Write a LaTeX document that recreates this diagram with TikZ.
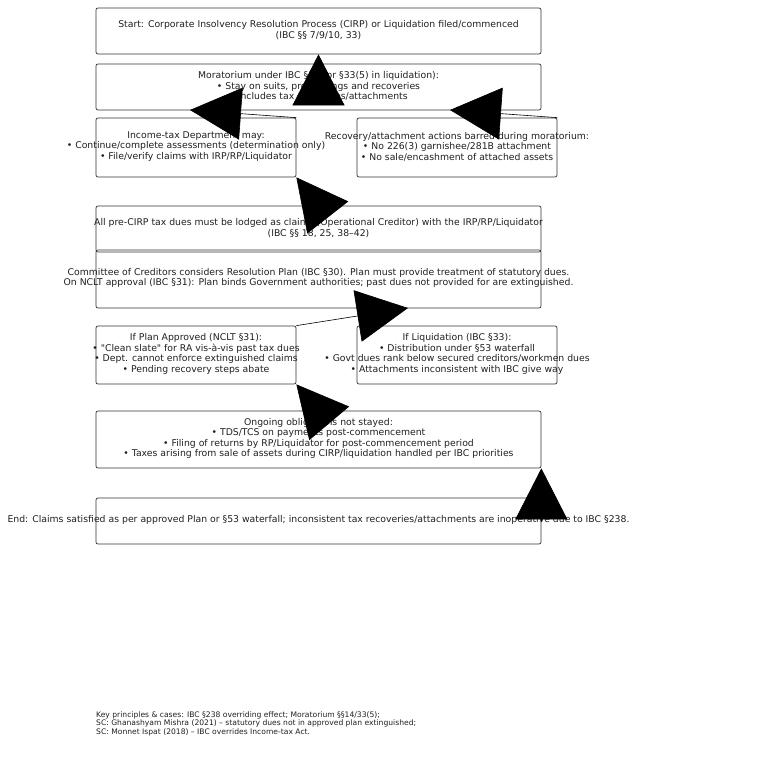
\documentclass[tikz,border=0pt]{standalone}
\usepackage{fontspec}
\setmainfont{DejaVu Sans}[Ligatures=TeXOff]
\usetikzlibrary{arrows.meta, positioning, calc}

\begin{document}
\begin{tikzpicture}[
        x=1pt, y=-1pt,
        box/.style={draw=black!80, line width=0.7pt, rounded corners=2pt, inner sep=0pt},
        wide/.style={box, minimum width=445pt},
        half/.style={box, minimum width=200pt},
        txt/.style={align=center, inner sep=0pt, text=black!88, yshift=1pt, font=\fontsize{9.3}{10.5}\selectfont},
        note/.style={align=left, anchor=west, inner sep=0pt, text=black!88, font=\fontsize{7.6}{8.5}\selectfont},
        flow/.style={-{Triangle[length=51pt, width=52pt]}, line width=0.6pt}
    ]
        \useasboundingbox (0,0) rectangle (768,767);

        % Boxes
        \node[wide, minimum height=46pt] (start) at (318.5,31) {};
        \node[wide, minimum height=46pt] (mor) at (318.5,87) {};
        \node[half, minimum height=59pt] (tax) at (196,147.5) {};
        \node[half, minimum height=59pt] (rec) at (457,147.5) {};
        \node[wide, minimum height=46pt] (pre) at (318.5,229) {};
        \node[wide, minimum height=58pt] (coc) at (318.5,279) {};
        \node[half, minimum height=58pt] (plan) at (196,355) {};
        \node[half, minimum height=58pt] (liq) at (457,355) {};
        \node[wide, minimum height=57pt] (ong) at (318.5,439.5) {};
        \node[wide, minimum height=46pt] (end) at (318.5,521) {};

        % Texts
        \node[txt] (startT) at (start) {Start: Corporate Insolvency Resolution Process (CIRP) or Liquidation filed/commenced\\(IBC §§ 7/9/10, 33)};
        \node[txt] (morT) at (mor) {Moratorium under IBC §14 (or §33(5) in liquidation):\\• Stay on suits, proceedings and recoveries\\• Includes tax recoveries/attachments};
        \node[txt] (taxT) at (tax) {Income-tax Department may:\\• Continue/complete assessments (determination only)\\• File/verify claims with IRP/RP/Liquidator};
        \node[txt] (recT) at (rec) {Recovery/attachment actions barred during moratorium:\\• No 226(3) garnishee/281B attachment\\• No sale/encashment of attached assets};
        \node[txt] (preT) at (pre) {All pre-CIRP tax dues must be lodged as claims (Operational Creditor) with the IRP/RP/Liquidator\\(IBC §§ 18, 25, 38–42)};
        \node[txt] (cocT) at (coc) {Committee of Creditors considers Resolution Plan (IBC §30). Plan must provide treatment of statutory dues.\\On NCLT approval (IBC §31): Plan binds Government authorities; past dues not provided for are extinguished.};
        \node[txt] (planT) at (plan) {If Plan Approved (NCLT §31):\\• "Clean slate" for RA vis-à-vis past tax dues\\• Dept. cannot enforce extinguished claims\\• Pending recovery steps abate};
        \node[txt] (liqT) at (liq) {If Liquidation (IBC §33):\\• Distribution under §53 waterfall\\• Govt dues rank below secured creditors/workmen dues\\• Attachments inconsistent with IBC give way};
        \node[txt] (ongT) at (ong) {Ongoing obligations not stayed:\\• TDS/TCS on payments post-commencement\\• Filing of returns by RP/Liquidator for post-commencement period\\• Taxes arising from sale of assets during CIRP/liquidation handled per IBC priorities};
        \node[txt] (endT) at (end) {End: Claims satisfied as per approved Plan or §53 waterfall; inconsistent tax recoveries/attachments are inoperative due to IBC §238.};

        % Key cases
        \node[note] (keys) at (96,723.5) {Key principles \& cases: IBC §238 overriding effect; Moratorium §§14/33(5);\\SC: Ghanashyam Mishra (2021) – statutory dues not in approved plan extinguished;\\SC: Monnet Ispat (2018) – IBC overrides Income-tax Act.};

        % Arrows
        \coordinate (morL) at (190,110);
        \coordinate (morR) at (450,110);
        \coordinate (cocB) at (408,308);
        \draw[flow] (mor.north) -- (start.south);
        \draw[flow] (tax.north east) -- (morL);
        \draw[flow] (rec.north east) -- (morR);
        \draw[flow] (pre.north) -- (tax.south east);
        \draw[flow] (plan.north east) -- (cocB);
        \draw[flow] (ong.north) -- (plan.south east);
        \draw[flow] (end.east) -- (ong.south east);
    \end{tikzpicture}
\end{document}
